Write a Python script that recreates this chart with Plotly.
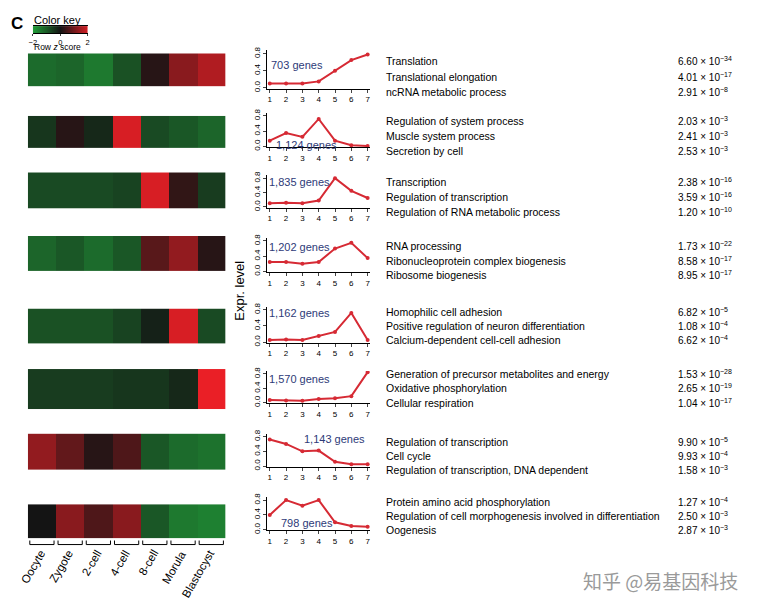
import plotly.graph_objects as go

W, H = 758, 608
FW, FH = 742, 592
stages = ["Oocyte", "Zygote", "2-cell", "4-cell", "8-cell", "Morula", "Blastocyst"]
x_ticks = [1, 2, 3, 4, 5, 6, 7]

heat_z = [
    [-1.3, -1.2, -1.5, -0.9, 0.2, 1.2, 1.6],
    [-0.5, 0.2, -0.3, 2.0, -0.8, -1.0, -1.2],
    [-0.8, -0.8, -0.8, -0.7, 2.0, 0.3, -0.6],
    [-1.2, -1.0, -1.3, -1.0, 0.7, 1.3, 0.2],
    [-0.9, -0.9, -0.9, -0.7, -0.2, 2.0, -0.8],
    [-0.6, -0.6, -0.6, -0.5, -0.5, -0.3, 2.2],
    [1.3, 0.8, 0.2, 0.6, -1.0, -1.3, -1.4],
    [0.0, 1.2, 0.6, 1.2, -1.0, -1.5, -1.6],
]
expr = [
    [0.10, 0.10, 0.10, 0.15, 0.40, 0.65, 0.78],
    [0.15, 0.35, 0.25, 0.72, 0.15, 0.03, 0.01],
    [0.10, 0.12, 0.10, 0.18, 0.80, 0.45, 0.25],
    [0.25, 0.25, 0.20, 0.25, 0.60, 0.75, 0.35],
    [0.05, 0.06, 0.05, 0.15, 0.25, 0.72, 0.05],
    [0.07, 0.06, 0.05, 0.10, 0.12, 0.18, 0.85],
    [0.72, 0.60, 0.40, 0.42, 0.12, 0.05, 0.05],
    [0.40, 0.80, 0.65, 0.80, 0.20, 0.10, 0.08],
]
gene_counts = ["703 genes", "1,124 genes", "1,835 genes", "1,202 genes",
               "1,162 genes", "1,570 genes", "1,143 genes", "798 genes"]
go_terms = [
    ["Translation", "Translational elongation", "ncRNA metabolic process"],
    ["Regulation of system process", "Muscle system process", "Secretion by cell"],
    ["Transcription", "Regulation of transcription", "Regulation of RNA metabolic process"],
    ["RNA processing", "Ribonucleoprotein complex biogenesis", "Ribosome biogenesis"],
    ["Homophilic cell adhesion", "Positive regulation of neuron differentiation", "Calcium-dependent cell-cell adhesion"],
    ["Generation of precursor metabolites and energy", "Oxidative phosphorylation", "Cellular respiration"],
    ["Regulation of transcription", "Cell cycle", "Regulation of transcription, DNA dependent"],
    ["Protein amino acid phosphorylation", "Regulation of cell morphogenesis involved in differentiation", "Oogenesis"],
]
p_values = [
    ["6.60 × 10<sup>−34</sup>", "4.01 × 10<sup>−17</sup>", "2.91 × 10<sup>−8</sup>"],
    ["2.03 × 10<sup>−3</sup>", "2.41 × 10<sup>−3</sup>", "2.53 × 10<sup>−3</sup>"],
    ["2.38 × 10<sup>−16</sup>", "3.59 × 10<sup>−16</sup>", "1.20 × 10<sup>−10</sup>"],
    ["1.73 × 10<sup>−22</sup>", "8.58 × 10<sup>−17</sup>", "8.95 × 10<sup>−17</sup>"],
    ["6.82 × 10<sup>−5</sup>", "1.08 × 10<sup>−4</sup>", "6.62 × 10<sup>−4</sup>"],
    ["1.53 × 10<sup>−28</sup>", "2.65 × 10<sup>−19</sup>", "1.04 × 10<sup>−17</sup>"],
    ["9.90 × 10<sup>−5</sup>", "9.93 × 10<sup>−4</sup>", "1.58 × 10<sup>−3</sup>"],
    ["1.27 × 10<sup>−4</sup>", "2.50 × 10<sup>−3</sup>", "2.87 × 10<sup>−3</sup>"],
]

heat_y = [(55, 88), (117, 149), (173, 209), (236, 271), (308, 343), (368, 408), (432, 468), (502, 536)]
line_y = [(52, 90), (114, 148), (176, 208), (238, 272), (306, 342), (370, 402), (432, 465), (495, 528)]
gene_pos = [(270, 67), (275, 146), (268, 183), (268, 247), (268, 312), (268, 378), (303, 437), (280, 521)]
term_y = [(63, 78, 93), (122, 137, 152), (183, 197, 212), (246, 261, 275),
          (311, 325, 339), (373, 387, 402), (440, 454, 468), (500, 514, 528)]

def px(x):
    return ((x - 4.2) / 0.994 - 8) / FW
def py(y):
    return min(1.0, 1 - ((y - 6.2) / 0.978 - 8) / FH)

cscale = [[0, "#22a83c"], [0.5, "#141414"], [1, "#ea1f26"]]
RED = "#d62a34"
FONT = "Liberation Sans, Arial"

fig = go.Figure()
layout = dict(width=FW, height=FH, margin=dict(l=0, r=0, t=0, b=0),
              plot_bgcolor="white", paper_bgcolor="white", showlegend=False,
              font=dict(family=FONT, color="black"))
ann, shapes = [], []

for i in range(8):
    hx, hy = f"x{2*i+1}", f"y{2*i+1}"
    lx, ly = f"x{2*i+2}", f"y{2*i+2}"
    fig.add_trace(go.Heatmap(z=[heat_z[i]], x=stages, zmin=-2.2, zmax=2.2,
                             colorscale=cscale, showscale=False, xaxis=hx, yaxis=hy))
    fig.add_trace(go.Scatter(x=x_ticks, y=expr[i], mode="lines+markers",
                             line=dict(color=RED, width=2), marker=dict(color=RED, size=4),
                             xaxis=lx, yaxis=ly))
    y0, y1 = heat_y[i]
    layout[f"xaxis{2*i+1}"] = dict(domain=[px(28), px(226)], visible=False, anchor=hy)
    layout[f"yaxis{2*i+1}"] = dict(domain=[py(y1), py(y0)], visible=False, anchor=hx)
    y0, y1 = line_y[i]
    layout[f"xaxis{2*i+2}"] = dict(domain=[px(268), px(371)], range=[0.85, 7.15], anchor=ly,
                                   tickvals=x_ticks, showline=True, linecolor="black", ticks="outside",
                                   ticklen=3, tickfont=dict(size=8), showgrid=False, zeroline=False)
    layout[f"yaxis{2*i+2}"] = dict(domain=[py(y1), py(y0)], range=[-0.02, 0.88], anchor=lx,
                                   tickvals=[0, 0.4, 0.8], ticktext=["0.0", "0.4", "0.8"],
                                   tickangle=-90, showline=True, linecolor="black", ticks="outside",
                                   ticklen=3, tickfont=dict(size=8), showgrid=False, zeroline=False)
    gx, gy = gene_pos[i]
    ann.append(dict(x=px(gx), y=py(gy), text=gene_counts[i], font=dict(size=11, color="#2e3a78")))
    for j in range(3):
        ann.append(dict(x=px(385), y=py(term_y[i][j]), text=go_terms[i][j], font=dict(size=10.5)))
        ann.append(dict(x=px(678), y=py(term_y[i][j]), text=p_values[i][j], font=dict(size=10)))

fig.add_trace(go.Heatmap(z=[[-2, -1, 0, 1, 2]], x=[-2, -1, 0, 1, 2], colorscale=cscale,
                         zmin=-2.2, zmax=2.2, zsmooth="best", showscale=False, xaxis="x17", yaxis="y17"))
layout["xaxis17"] = dict(domain=[px(33), px(88)], range=[-2, 2], anchor="y17", tickvals=[-2, 0, 2],
                         ticktext=["−2", "0", "2"], ticks="outside", ticklen=2, tickfont=dict(size=7.5),
                         showline=True, linecolor="black", mirror=True, showgrid=False, zeroline=False)
layout["yaxis17"] = dict(domain=[py(35), py(28)], visible=False, anchor="x17")
ann += [
    dict(x=px(9), y=1.0, yanchor="top", text="<b>C</b>", font=dict(size=17)),
    dict(x=px(32), y=1.0, yanchor="top", text="Color key", font=dict(size=11)),
    dict(x=px(32), y=py(56), yanchor="bottom", text="Row <i>z</i> score", font=dict(size=8.5)),
    dict(x=px(240), y=py(290), text="Expr. level", textangle=-90, font=dict(size=13), xanchor="center"),
    dict(x=px(742), y=py(578), text="知乎 @易基因科技", xanchor="right",
         font=dict(size=19, color="#9a9a9a", family="Noto Sans CJK SC")),
]

cw = (226 - 28) / 7
for k, s in enumerate(stages):
    cx = 28 + cw * (k + 0.5)
    a, b = 28 + cw * k + 2, 28 + cw * (k + 1) - 2
    shapes.append(dict(type="path", xref="paper", yref="paper", line=dict(color="black", width=1),
                       path=f"M {px(a)},{py(538)} L {px(a)},{py(542)} L {px(b)},{py(542)} L {px(b)},{py(538)}"))
    ann.append(dict(x=px(cx + 8), y=py(543), text=s, textangle=-60, xanchor="right", yanchor="top",
                    font=dict(size=11.5)))

for a in ann:
    a.setdefault("xref", "paper"); a.setdefault("yref", "paper")
    a.setdefault("showarrow", False); a.setdefault("xanchor", "left"); a.setdefault("yanchor", "middle")

layout["annotations"] = ann
layout["shapes"] = shapes
fig.update_layout(**layout)
fig.write_html("out.html")
